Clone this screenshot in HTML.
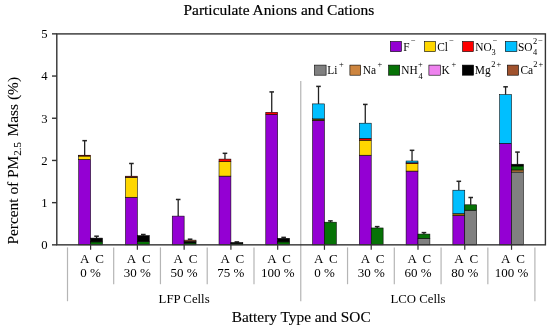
<!DOCTYPE html><html><head><meta charset="utf-8"><style>html,body{margin:0;padding:0;background:#fff;width:550px;height:329px;overflow:hidden}svg{display:block}text{font-family:"Liberation Serif","Times New Roman",serif;fill:#000;stroke:#000;stroke-width:0}</style></head><body>
<svg width="550" height="329" viewBox="0 0 550 329">
<text x="278.9" y="14.7" font-size="15.45" style="stroke-width:0.2px" text-anchor="middle">Particulate Anions and Cations</text>
<line x1="67.50" y1="247.4" x2="67.50" y2="301.2" stroke="#b5b5b5" stroke-width="1.2"/>
<line x1="113.69" y1="247.4" x2="113.69" y2="284.2" stroke="#b5b5b5" stroke-width="1.2"/>
<line x1="160.45" y1="247.4" x2="160.45" y2="284.2" stroke="#b5b5b5" stroke-width="1.2"/>
<line x1="207.22" y1="247.4" x2="207.22" y2="284.2" stroke="#b5b5b5" stroke-width="1.2"/>
<line x1="254.00" y1="247.4" x2="254.00" y2="284.2" stroke="#b5b5b5" stroke-width="1.2"/>
<line x1="300.76" y1="81" x2="300.76" y2="301.2" stroke="#b5b5b5" stroke-width="1.2"/>
<line x1="347.54" y1="247.4" x2="347.54" y2="284.2" stroke="#b5b5b5" stroke-width="1.2"/>
<line x1="394.31" y1="247.4" x2="394.31" y2="284.2" stroke="#b5b5b5" stroke-width="1.2"/>
<line x1="441.07" y1="247.4" x2="441.07" y2="284.2" stroke="#b5b5b5" stroke-width="1.2"/>
<line x1="487.84" y1="247.4" x2="487.84" y2="284.2" stroke="#b5b5b5" stroke-width="1.2"/>
<line x1="534.90" y1="247.4" x2="534.90" y2="301.2" stroke="#b5b5b5" stroke-width="1.2"/>
<line x1="84.65" y1="155.22" x2="84.65" y2="140.66" stroke="#222" stroke-width="1.3"/>
<line x1="82.35" y1="140.66" x2="86.95" y2="140.66" stroke="#222" stroke-width="1.5"/>
<rect x="78.70" y="159.39" width="11.90" height="85.45" fill="#9400D3" stroke="#000" stroke-width="0.55"/>
<rect x="78.70" y="156.06" width="11.90" height="3.33" fill="#FFD700" stroke="#000" stroke-width="0.55"/>
<rect x="78.70" y="155.22" width="11.90" height="0.84" fill="#FF0000" stroke="#000" stroke-width="0.55"/>
<line x1="96.55" y1="238.10" x2="96.55" y2="236.20" stroke="#222" stroke-width="1.3"/>
<line x1="94.25" y1="236.20" x2="98.85" y2="236.20" stroke="#222" stroke-width="1.5"/>
<rect x="90.60" y="241.90" width="11.90" height="2.95" fill="#067206" stroke="#000" stroke-width="0.55"/>
<rect x="90.60" y="238.10" width="11.90" height="3.80" fill="#000000" stroke="#000" stroke-width="0.55"/>
<line x1="131.42" y1="176.19" x2="131.42" y2="163.49" stroke="#222" stroke-width="1.3"/>
<line x1="129.12" y1="163.49" x2="133.72" y2="163.49" stroke="#222" stroke-width="1.5"/>
<rect x="125.47" y="197.25" width="11.90" height="47.60" fill="#9400D3" stroke="#000" stroke-width="0.55"/>
<rect x="125.47" y="177.33" width="11.90" height="19.92" fill="#FFD700" stroke="#000" stroke-width="0.55"/>
<rect x="125.47" y="176.19" width="11.90" height="1.14" fill="#8b0a0a" stroke="#000" stroke-width="0.55"/>
<line x1="143.32" y1="235.61" x2="143.32" y2="234.51" stroke="#222" stroke-width="1.3"/>
<line x1="141.02" y1="234.51" x2="145.62" y2="234.51" stroke="#222" stroke-width="1.5"/>
<rect x="137.37" y="241.47" width="11.90" height="3.38" fill="#067206" stroke="#000" stroke-width="0.55"/>
<rect x="137.37" y="235.61" width="11.90" height="5.87" fill="#000000" stroke="#000" stroke-width="0.55"/>
<line x1="178.19" y1="216.11" x2="178.19" y2="199.48" stroke="#222" stroke-width="1.3"/>
<line x1="175.89" y1="199.48" x2="180.49" y2="199.48" stroke="#222" stroke-width="1.5"/>
<rect x="172.24" y="216.11" width="11.90" height="28.74" fill="#9400D3" stroke="#000" stroke-width="0.55"/>
<line x1="190.09" y1="240.12" x2="190.09" y2="239.20" stroke="#222" stroke-width="1.3"/>
<line x1="187.79" y1="239.20" x2="192.39" y2="239.20" stroke="#222" stroke-width="1.5"/>
<rect x="184.14" y="242.95" width="11.90" height="1.90" fill="#067206" stroke="#000" stroke-width="0.55"/>
<rect x="184.14" y="241.39" width="11.90" height="1.56" fill="#000000" stroke="#000" stroke-width="0.55"/>
<rect x="184.14" y="240.12" width="11.90" height="1.27" fill="#A0522D" stroke="#000" stroke-width="0.55"/>
<line x1="224.96" y1="159.10" x2="224.96" y2="153.32" stroke="#222" stroke-width="1.3"/>
<line x1="222.66" y1="153.32" x2="227.26" y2="153.32" stroke="#222" stroke-width="1.5"/>
<rect x="219.01" y="176.11" width="11.90" height="68.74" fill="#9400D3" stroke="#000" stroke-width="0.55"/>
<rect x="219.01" y="161.50" width="11.90" height="14.60" fill="#FFD700" stroke="#000" stroke-width="0.55"/>
<rect x="219.01" y="159.10" width="11.90" height="2.41" fill="#FF0000" stroke="#000" stroke-width="0.55"/>
<line x1="236.86" y1="242.49" x2="236.86" y2="241.90" stroke="#222" stroke-width="1.3"/>
<line x1="234.56" y1="241.90" x2="239.16" y2="241.90" stroke="#222" stroke-width="1.5"/>
<rect x="230.91" y="243.58" width="11.90" height="1.27" fill="#067206" stroke="#000" stroke-width="0.55"/>
<rect x="230.91" y="242.49" width="11.90" height="1.10" fill="#000000" stroke="#000" stroke-width="0.55"/>
<line x1="271.73" y1="112.30" x2="271.73" y2="91.92" stroke="#222" stroke-width="1.3"/>
<line x1="269.43" y1="91.92" x2="274.03" y2="91.92" stroke="#222" stroke-width="1.5"/>
<rect x="265.78" y="114.41" width="11.90" height="130.44" fill="#9400D3" stroke="#000" stroke-width="0.55"/>
<rect x="265.78" y="112.30" width="11.90" height="2.11" fill="#FF0000" stroke="#000" stroke-width="0.55"/>
<line x1="283.63" y1="238.31" x2="283.63" y2="237.38" stroke="#222" stroke-width="1.3"/>
<line x1="281.33" y1="237.38" x2="285.93" y2="237.38" stroke="#222" stroke-width="1.5"/>
<rect x="277.68" y="241.90" width="11.90" height="2.95" fill="#067206" stroke="#000" stroke-width="0.55"/>
<rect x="277.68" y="238.31" width="11.90" height="3.59" fill="#000000" stroke="#000" stroke-width="0.55"/>
<line x1="318.50" y1="103.90" x2="318.50" y2="86.39" stroke="#222" stroke-width="1.3"/>
<line x1="316.20" y1="86.39" x2="320.80" y2="86.39" stroke="#222" stroke-width="1.5"/>
<rect x="312.55" y="120.61" width="11.90" height="124.24" fill="#9400D3" stroke="#000" stroke-width="0.55"/>
<rect x="312.55" y="118.88" width="11.90" height="1.73" fill="#6b4a08" stroke="#000" stroke-width="0.55"/>
<rect x="312.55" y="103.90" width="11.90" height="14.98" fill="#00BFFF" stroke="#000" stroke-width="0.55"/>
<line x1="330.40" y1="222.19" x2="330.40" y2="220.88" stroke="#222" stroke-width="1.3"/>
<line x1="328.10" y1="220.88" x2="332.70" y2="220.88" stroke="#222" stroke-width="1.5"/>
<rect x="324.45" y="222.19" width="11.90" height="22.66" fill="#067206" stroke="#000" stroke-width="0.55"/>
<line x1="365.27" y1="123.19" x2="365.27" y2="104.41" stroke="#222" stroke-width="1.3"/>
<line x1="362.97" y1="104.41" x2="367.57" y2="104.41" stroke="#222" stroke-width="1.5"/>
<rect x="359.32" y="155.22" width="11.90" height="89.63" fill="#9400D3" stroke="#000" stroke-width="0.55"/>
<rect x="359.32" y="140.19" width="11.90" height="15.02" fill="#FFD700" stroke="#000" stroke-width="0.55"/>
<rect x="359.32" y="138.38" width="11.90" height="1.81" fill="#FF0000" stroke="#000" stroke-width="0.55"/>
<rect x="359.32" y="123.19" width="11.90" height="15.19" fill="#00BFFF" stroke="#000" stroke-width="0.55"/>
<line x1="377.17" y1="227.97" x2="377.17" y2="226.62" stroke="#222" stroke-width="1.3"/>
<line x1="374.87" y1="226.62" x2="379.47" y2="226.62" stroke="#222" stroke-width="1.5"/>
<rect x="371.22" y="227.97" width="11.90" height="16.88" fill="#067206" stroke="#000" stroke-width="0.55"/>
<line x1="412.04" y1="161.00" x2="412.04" y2="150.32" stroke="#222" stroke-width="1.3"/>
<line x1="409.74" y1="150.32" x2="414.34" y2="150.32" stroke="#222" stroke-width="1.5"/>
<rect x="406.09" y="171.08" width="11.90" height="73.77" fill="#9400D3" stroke="#000" stroke-width="0.55"/>
<rect x="406.09" y="163.61" width="11.90" height="7.47" fill="#FFD700" stroke="#000" stroke-width="0.55"/>
<rect x="406.09" y="162.81" width="11.90" height="0.80" fill="#FF0000" stroke="#000" stroke-width="0.55"/>
<rect x="406.09" y="161.00" width="11.90" height="1.81" fill="#00BFFF" stroke="#000" stroke-width="0.55"/>
<line x1="423.94" y1="234.09" x2="423.94" y2="232.61" stroke="#222" stroke-width="1.3"/>
<line x1="421.64" y1="232.61" x2="426.24" y2="232.61" stroke="#222" stroke-width="1.5"/>
<rect x="417.99" y="238.31" width="11.90" height="6.54" fill="#808080" stroke="#000" stroke-width="0.55"/>
<rect x="417.99" y="234.09" width="11.90" height="4.22" fill="#067206" stroke="#000" stroke-width="0.55"/>
<line x1="458.81" y1="190.20" x2="458.81" y2="181.30" stroke="#222" stroke-width="1.3"/>
<line x1="456.51" y1="181.30" x2="461.11" y2="181.30" stroke="#222" stroke-width="1.5"/>
<rect x="452.86" y="215.73" width="11.90" height="29.12" fill="#9400D3" stroke="#000" stroke-width="0.55"/>
<rect x="452.86" y="213.62" width="11.90" height="2.11" fill="#9a5e08" stroke="#000" stroke-width="0.55"/>
<rect x="452.86" y="190.20" width="11.90" height="23.42" fill="#00BFFF" stroke="#000" stroke-width="0.55"/>
<line x1="470.71" y1="204.80" x2="470.71" y2="197.50" stroke="#222" stroke-width="1.3"/>
<line x1="468.41" y1="197.50" x2="473.01" y2="197.50" stroke="#222" stroke-width="1.5"/>
<rect x="464.76" y="210.20" width="11.90" height="34.65" fill="#808080" stroke="#000" stroke-width="0.55"/>
<rect x="464.76" y="204.80" width="11.90" height="5.40" fill="#067206" stroke="#000" stroke-width="0.55"/>
<line x1="505.58" y1="94.62" x2="505.58" y2="86.81" stroke="#222" stroke-width="1.3"/>
<line x1="503.28" y1="86.81" x2="507.88" y2="86.81" stroke="#222" stroke-width="1.5"/>
<rect x="499.63" y="143.32" width="11.90" height="101.53" fill="#9400D3" stroke="#000" stroke-width="0.55"/>
<rect x="499.63" y="94.62" width="11.90" height="48.70" fill="#00BFFF" stroke="#000" stroke-width="0.55"/>
<line x1="517.48" y1="164.21" x2="517.48" y2="152.09" stroke="#222" stroke-width="1.3"/>
<line x1="515.18" y1="152.09" x2="519.78" y2="152.09" stroke="#222" stroke-width="1.5"/>
<rect x="511.53" y="172.01" width="11.90" height="72.84" fill="#808080" stroke="#000" stroke-width="0.55"/>
<rect x="511.53" y="169.99" width="11.90" height="2.03" fill="#CD853F" stroke="#000" stroke-width="0.55"/>
<rect x="511.53" y="166.02" width="11.90" height="3.97" fill="#067206" stroke="#000" stroke-width="0.55"/>
<rect x="511.53" y="164.21" width="11.90" height="1.81" fill="#000000" stroke="#000" stroke-width="0.55"/>
<rect x="56.8" y="33.9" width="488.60" height="210.95" fill="none" stroke="#333" stroke-width="1.4"/>
<line x1="52" y1="244.85" x2="56.8" y2="244.85" stroke="#333" stroke-width="1.4"/>
<text x="47.7" y="249.15" font-size="12.7" text-anchor="end">0</text>
<line x1="52" y1="202.65" x2="56.8" y2="202.65" stroke="#333" stroke-width="1.4"/>
<text x="47.7" y="206.95" font-size="12.7" text-anchor="end">1</text>
<line x1="52" y1="160.45" x2="56.8" y2="160.45" stroke="#333" stroke-width="1.4"/>
<text x="47.7" y="164.75" font-size="12.7" text-anchor="end">2</text>
<line x1="52" y1="118.25" x2="56.8" y2="118.25" stroke="#333" stroke-width="1.4"/>
<text x="47.7" y="122.55" font-size="12.7" text-anchor="end">3</text>
<line x1="52" y1="76.05" x2="56.8" y2="76.05" stroke="#333" stroke-width="1.4"/>
<text x="47.7" y="80.35" font-size="12.7" text-anchor="end">4</text>
<line x1="52" y1="33.85" x2="56.8" y2="33.85" stroke="#333" stroke-width="1.4"/>
<text x="47.7" y="38.15" font-size="12.7" text-anchor="end">5</text>
<line x1="90.60" y1="244.85" x2="90.60" y2="249.8" stroke="#333" stroke-width="1.2"/>
<text x="92.00" y="262.9" font-size="13" text-anchor="middle" xml:space="preserve">A  C</text>
<text x="90.60" y="276.8" font-size="13" text-anchor="middle">0 %</text>
<line x1="137.37" y1="244.85" x2="137.37" y2="249.8" stroke="#333" stroke-width="1.2"/>
<text x="138.77" y="262.9" font-size="13" text-anchor="middle" xml:space="preserve">A  C</text>
<text x="137.37" y="276.8" font-size="13" text-anchor="middle">30 %</text>
<line x1="184.14" y1="244.85" x2="184.14" y2="249.8" stroke="#333" stroke-width="1.2"/>
<text x="185.54" y="262.9" font-size="13" text-anchor="middle" xml:space="preserve">A  C</text>
<text x="184.14" y="276.8" font-size="13" text-anchor="middle">50 %</text>
<line x1="230.91" y1="244.85" x2="230.91" y2="249.8" stroke="#333" stroke-width="1.2"/>
<text x="232.31" y="262.9" font-size="13" text-anchor="middle" xml:space="preserve">A  C</text>
<text x="230.91" y="276.8" font-size="13" text-anchor="middle">75 %</text>
<line x1="277.68" y1="244.85" x2="277.68" y2="249.8" stroke="#333" stroke-width="1.2"/>
<text x="279.08" y="262.9" font-size="13" text-anchor="middle" xml:space="preserve">A  C</text>
<text x="277.68" y="276.8" font-size="13" text-anchor="middle">100 %</text>
<line x1="324.45" y1="244.85" x2="324.45" y2="249.8" stroke="#333" stroke-width="1.2"/>
<text x="325.85" y="262.9" font-size="13" text-anchor="middle" xml:space="preserve">A  C</text>
<text x="324.45" y="276.8" font-size="13" text-anchor="middle">0 %</text>
<line x1="371.22" y1="244.85" x2="371.22" y2="249.8" stroke="#333" stroke-width="1.2"/>
<text x="372.62" y="262.9" font-size="13" text-anchor="middle" xml:space="preserve">A  C</text>
<text x="371.22" y="276.8" font-size="13" text-anchor="middle">30 %</text>
<line x1="417.99" y1="244.85" x2="417.99" y2="249.8" stroke="#333" stroke-width="1.2"/>
<text x="419.39" y="262.9" font-size="13" text-anchor="middle" xml:space="preserve">A  C</text>
<text x="417.99" y="276.8" font-size="13" text-anchor="middle">60 %</text>
<line x1="464.76" y1="244.85" x2="464.76" y2="249.8" stroke="#333" stroke-width="1.2"/>
<text x="466.16" y="262.9" font-size="13" text-anchor="middle" xml:space="preserve">A  C</text>
<text x="464.76" y="276.8" font-size="13" text-anchor="middle">80 %</text>
<line x1="511.53" y1="244.85" x2="511.53" y2="249.8" stroke="#333" stroke-width="1.2"/>
<text x="512.93" y="262.9" font-size="13" text-anchor="middle" xml:space="preserve">A  C</text>
<text x="511.53" y="276.8" font-size="13" text-anchor="middle">100 %</text>
<text x="184.14" y="303.3" font-size="12.8" text-anchor="middle">LFP Cells</text>
<text x="417.99" y="303.3" font-size="12.8" text-anchor="middle">LCO Cells</text>
<text x="301.2" y="321.5" font-size="15.35" style="stroke-width:0.12px" text-anchor="middle">Battery Type and SOC</text>
<text transform="translate(17.8,244.6) rotate(-90)" font-size="15.4" style="stroke-width:0.08px">Percent of PM<tspan font-size="11" dy="3">2.5</tspan><tspan dy="-3" dx="1.7"> Mass (%)</tspan></text>
<rect x="390.40" y="41.50" width="11.00" height="10.10" fill="#9400D3" stroke="#000" stroke-width="0.6"/>
<text transform="translate(403.3,50.7) scale(1,1.08)" font-size="11.4">F</text>
<text x="410.9" y="43.2" font-size="8.4" style="stroke:none">−</text>
<rect x="424.60" y="41.50" width="10.80" height="10.10" fill="#FFD700" stroke="#000" stroke-width="0.6"/>
<text transform="translate(437.2,50.7) scale(1,1.08)" font-size="11.4">Cl</text>
<text x="449.2" y="43.400000000000006" font-size="8.4" style="stroke:none">−</text>
<rect x="462.60" y="41.50" width="10.70" height="10.10" fill="#FF0000" stroke="#000" stroke-width="0.6"/>
<text transform="translate(475.2,50.7) scale(1,1.08)" font-size="11.4">NO</text>
<text x="492.8" y="43.400000000000006" font-size="8.4" style="stroke:none">−</text>
<text x="491.6" y="55.0" font-size="8.4" style="stroke:none">3</text>
<rect x="505.30" y="41.50" width="11.60" height="10.10" fill="#00BFFF" stroke="#000" stroke-width="0.6"/>
<text transform="translate(518,50.7) scale(1,1.08)" font-size="11.4">SO</text>
<text x="533.0" y="43.7" font-size="8.4" style="stroke:none">2</text>
<text x="538.2" y="43.1" font-size="8.4" style="stroke:none">−</text>
<text x="533.0" y="55.0" font-size="8.4" style="stroke:none">4</text>
<rect x="314.50" y="65.10" width="11.60" height="10.10" fill="#808080" stroke="#000" stroke-width="0.6"/>
<text transform="translate(327.3,74.3) scale(1,1.08)" font-size="11.4">Li</text>
<text x="338.9" y="66.7" font-size="8.4" style="stroke:none">+</text>
<rect x="349.90" y="65.10" width="10.80" height="10.10" fill="#CD853F" stroke="#000" stroke-width="0.6"/>
<text transform="translate(362.7,74.3) scale(1,1.08)" font-size="11.4">Na</text>
<text x="377.4" y="66.7" font-size="8.4" style="stroke:none">+</text>
<rect x="388.60" y="65.10" width="11.10" height="10.10" fill="#067206" stroke="#000" stroke-width="0.6"/>
<text transform="translate(401.3,74.3) scale(1,1.08)" font-size="11.4">NH</text>
<text x="418.0" y="66.7" font-size="8.4" style="stroke:none">+</text>
<text x="418.4" y="78.6" font-size="8.4" style="stroke:none">4</text>
<rect x="428.90" y="65.10" width="11.50" height="10.10" fill="#EE82EE" stroke="#000" stroke-width="0.6"/>
<text transform="translate(441.6,74.3) scale(1,1.08)" font-size="11.4">K</text>
<text x="451.6" y="66.7" font-size="8.4" style="stroke:none">+</text>
<rect x="462.30" y="65.10" width="11.30" height="10.10" fill="#000000" stroke="#000" stroke-width="0.6"/>
<text transform="translate(474.8,74.3) scale(1,1.08)" font-size="11.4">Mg</text>
<text x="491.2" y="66.7" font-size="8.4" style="stroke:none">2</text>
<text x="496.6" y="66.7" font-size="8.4" style="stroke:none">+</text>
<rect x="507.30" y="65.10" width="11.20" height="10.10" fill="#A0522D" stroke="#000" stroke-width="0.6"/>
<text transform="translate(520.4,74.3) scale(1,1.08)" font-size="11.4">Ca</text>
<text x="533.2" y="66.7" font-size="8.4" style="stroke:none">2</text>
<text x="538.6" y="66.7" font-size="8.4" style="stroke:none">+</text>
</svg></body></html>
